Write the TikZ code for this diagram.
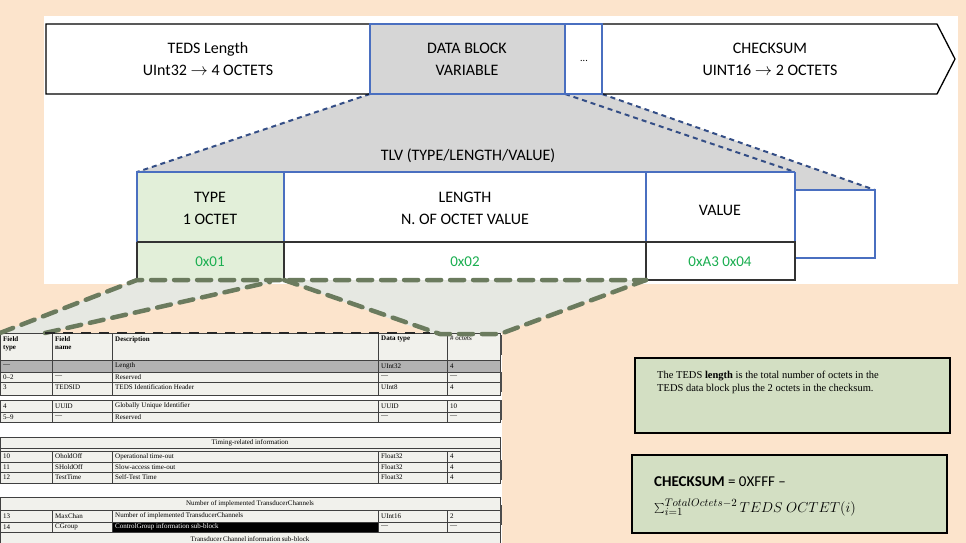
\documentclass[tikz,border=0pt]{standalone}
\usepackage{fontspec}
\setmainfont{Carlito}
\newfontfamily\tabfont{Liberation Serif}
\definecolor{peach}{HTML}{FCE4CC}
\definecolor{gblock}{HTML}{D6D6D6}
\definecolor{bblue}{HTML}{4A6FC0}
\definecolor{lgreen}{HTML}{E2EFD9}
\definecolor{tgreen}{HTML}{1AAE50}
\definecolor{olive}{HTML}{6B7B5E}
\definecolor{trap}{HTML}{E6E8E2}
\definecolor{notef}{HTML}{D3DFC3}
\definecolor{cellf}{HTML}{F1F1EC}
\tikzset{
  lbl/.style={font=\fontsize{16}{20}\selectfont, align=center, inner sep=0},
  val/.style={font=\fontsize{15}{18}\selectfont, text=tgreen, inner sep=0},
  gdash/.style={draw=olive, line width=4.5pt, dash pattern=on 14pt off 9pt, line cap=round},
  bdash/.style={draw=bblue!70!black, line width=2pt, dash pattern=on 5pt off 4pt},
  tt/.style={font=\tabfont\fontsize{7}{8}\selectfont, inner sep=0, anchor=west},
  ttb/.style={font=\tabfont\bfseries\fontsize{7}{8}\selectfont, inner sep=0, anchor=north west, align=left},
}
\begin{document}
\begin{tikzpicture}[x=1pt,y=-1pt]
\useasboundingbox (0,0) rectangle (966,543);
\fill[peach] (0,0) rectangle (966,543);
\fill[white] (44,16) rectangle (958,284);
% top bar
\fill[gblock] (370,24) rectangle (565,94);
\fill[gblock] (370,94) -- (565,94) -- (602,94) -- (875,190) -- (795,190) -- (795,172) -- (137,172) -- cycle;
\draw[bdash] (370,94) -- (137,172);
\draw[bdash] (565,94) -- (795,172);
\draw[bdash] (602,94) -- (875,190);
\draw[line width=1.3pt] (46,24) -- (937,24) -- (955,59) -- (937,94) -- (46,94) -- cycle;
\draw[bblue, line width=1.2pt] (370,24) rectangle (565,94);
\draw[bblue, line width=1.2pt] (565,24) rectangle (602,94);
\node[lbl] (tl) at (208,59) {TEDS Length\\[2pt]UInt32 $\rightarrow$ 4 OCTETS};
\node[lbl] (db) at (467,59) {DATA BLOCK\\[2pt]VARIABLE};
\node[lbl] (dots) at (584,61) {\fontsize{10}{10}\selectfont ...};
\node[lbl] (cs) at (770,59) {CHECKSUM\\[2pt]UINT16 $\rightarrow$ 2 OCTETS};
% TLV
\node[lbl] (tlv) at (468,156) {TLV (TYPE/LENGTH/VALUE)};
\fill[white] (795,190) rectangle (875,258);
\draw[bblue, line width=1.2pt] (795,190) -- (875,190) -- (875,258) -- (795,258);
\fill[lgreen] (137,172) rectangle (284,280);
\fill[white] (284,172) rectangle (795,280);
\draw[bblue, line width=1.2pt] (137,242) -- (137,172) -- (795,172);
\draw[bblue, line width=1.2pt] (284,172) -- (284,242);
\draw[bblue, line width=1.2pt] (646,172) -- (646,242);
\draw[bblue, line width=1.2pt] (795,172) -- (795,242);
\draw[black!80, line width=1.2pt] (137,242) -- (795,242) -- (795,280) -- (646,280) -- (646,242);
\draw[black!80, line width=1.2pt] (137,242) -- (137,280) (284,242) -- (284,280);
\node[lbl] (ty) at (210,208) {TYPE\\[2pt]1 OCTET};
\node[lbl] (le) at (465,208) {LENGTH\\[2pt]N. OF OCTET VALUE};
\node[lbl] (va) at (720,210) {VALUE};
\node[val] (v1) at (210,262) {0x01};
\node[val] (v2) at (465,262) {0x02};
\node[val] (v3) at (720,262) {0xA3 0x04};
% trapezoids
\fill[trap] (137,280) -- (284,280) -- (45,333) -- (0,333) -- cycle;
\fill[trap] (284,280) -- (646,280) -- (500,333) -- (430,333) -- cycle;
% table
\fill[white] (0,333) rectangle (502,543);
\begin{scope}[line width=0.5pt, draw=black!75]
\fill[cellf] (0,333) rectangle (500,395);
\fill[black!30] (0,360) rectangle (500,372);
\fill[cellf] (0,400) rectangle (500,422);
\fill[cellf] (0,437) rectangle (500,483);
\fill[cellf] (0,497) rectangle (500,543);
\fill[black] (112,522) rectangle (378,532);
\foreach \a/\b in {333/395,400/422,437/483,497/543}{
  \draw (0,\a) rectangle (500,\b);
}
\foreach \y in {360,372,382,412,451,462,472,510,522,532}{\draw (0,\y) -- (500,\y);}
\draw (0,448) -- (500,448);
\foreach \x in {52,112,378,447}{
  \draw (\x,333) -- (\x,395); \draw (\x,400) -- (\x,422);
  \draw (\x,451) -- (\x,483); \draw (\x,510) -- (\x,532);
}
\draw[line width=2pt, black!70] (501,335) -- (501,355) (501,372) -- (501,392) (501,460) -- (501,480) (501,505) -- (501,525) (501,400) -- (501,420);
\end{scope}
\node[ttb] (h1) at (3,336) {Field\\type};
\node[ttb] (h2) at (55,336) {Field\\name};
\node[ttb] (h3) at (115,336) {Description};
\node[ttb] (h4) at (381,336) {Data type};
\node[ttb,font=\tabfont\fontsize{7}{8}\selectfont] (h5) at (450,336) {\# octets};
\foreach \y/\a/\b/\c/\d/\e in {366/—//Length/UInt32/4, 377/0–2/—/Reserved/—/—, 387.5/3/TEDSID/TEDS Identification Header/UInt8/4,
  406/4/UUID/Globally Unique Identifier/UUID/10, 417/5–9/—/Reserved/—/—,
  456.5/10/OholdOff/Operational time-out/Float32/4, 467/11/SHoldOff/Slow-access time-out/Float32/4, 477.5/12/TestTime/Self-Test Time/Float32/4,
  516/13/MaxChan/Number of implemented TransducerChannels/UInt16/2, 527/14/CGroup//—/—}{
  \node[tt] at (3,\y) {\a}; \node[tt] at (55,\y) {\b}; \node[tt] at (115,\y) {\c};
  \node[tt] at (381,\y) {\d}; \node[tt] at (450,\y) {\e};
}
\node[tt, text=white] (cg) at (115,527) {ControlGroup information sub-block};
\node[tt, anchor=center] (tr) at (250,443) {Timing-related information};
\node[tt, anchor=center] (nr) at (250,504) {Number of implemented TransducerChannels};
\node[tt, anchor=center] (lr) at (250,539) {Transducer\,Channel\,information\,sub-block};
% green dashed connectors
\draw[gdash] (0,333) -- (137,280) -- (646,280);
\draw[gdash] (45,333) -- (270,282);
\draw[gdash] (284,280) -- (440,334) -- (500,334) -- (646,280);
\draw[black!85, line width=2.5pt, dash pattern=on 10pt off 8pt] (45,333) -- (430,333);
% notes
\draw[line width=1.2pt, fill=notef] (635,358) rectangle (950,433);
\node[font=\tabfont\fontsize{10.5}{13}\selectfont, align=left, anchor=north west, inner sep=0] (note) at (657,371)
  {The TEDS \textbf{length} is the total number of octets in the\\TEDS data block plus the 2 octets in the checksum.};
\draw[line width=1.2pt, fill=notef] (632,455) rectangle (947,533);
\node[font=\fontsize{15}{18}\selectfont, align=left, anchor=north west, inner sep=0] (cks) at (654,476)
  {\textbf{CHECKSUM} = 0XFFF --\\[8pt]$\sum_{i=1}^{TotalOctets-2} TEDS\ OCTET(i)$};
\end{tikzpicture}
\end{document}
